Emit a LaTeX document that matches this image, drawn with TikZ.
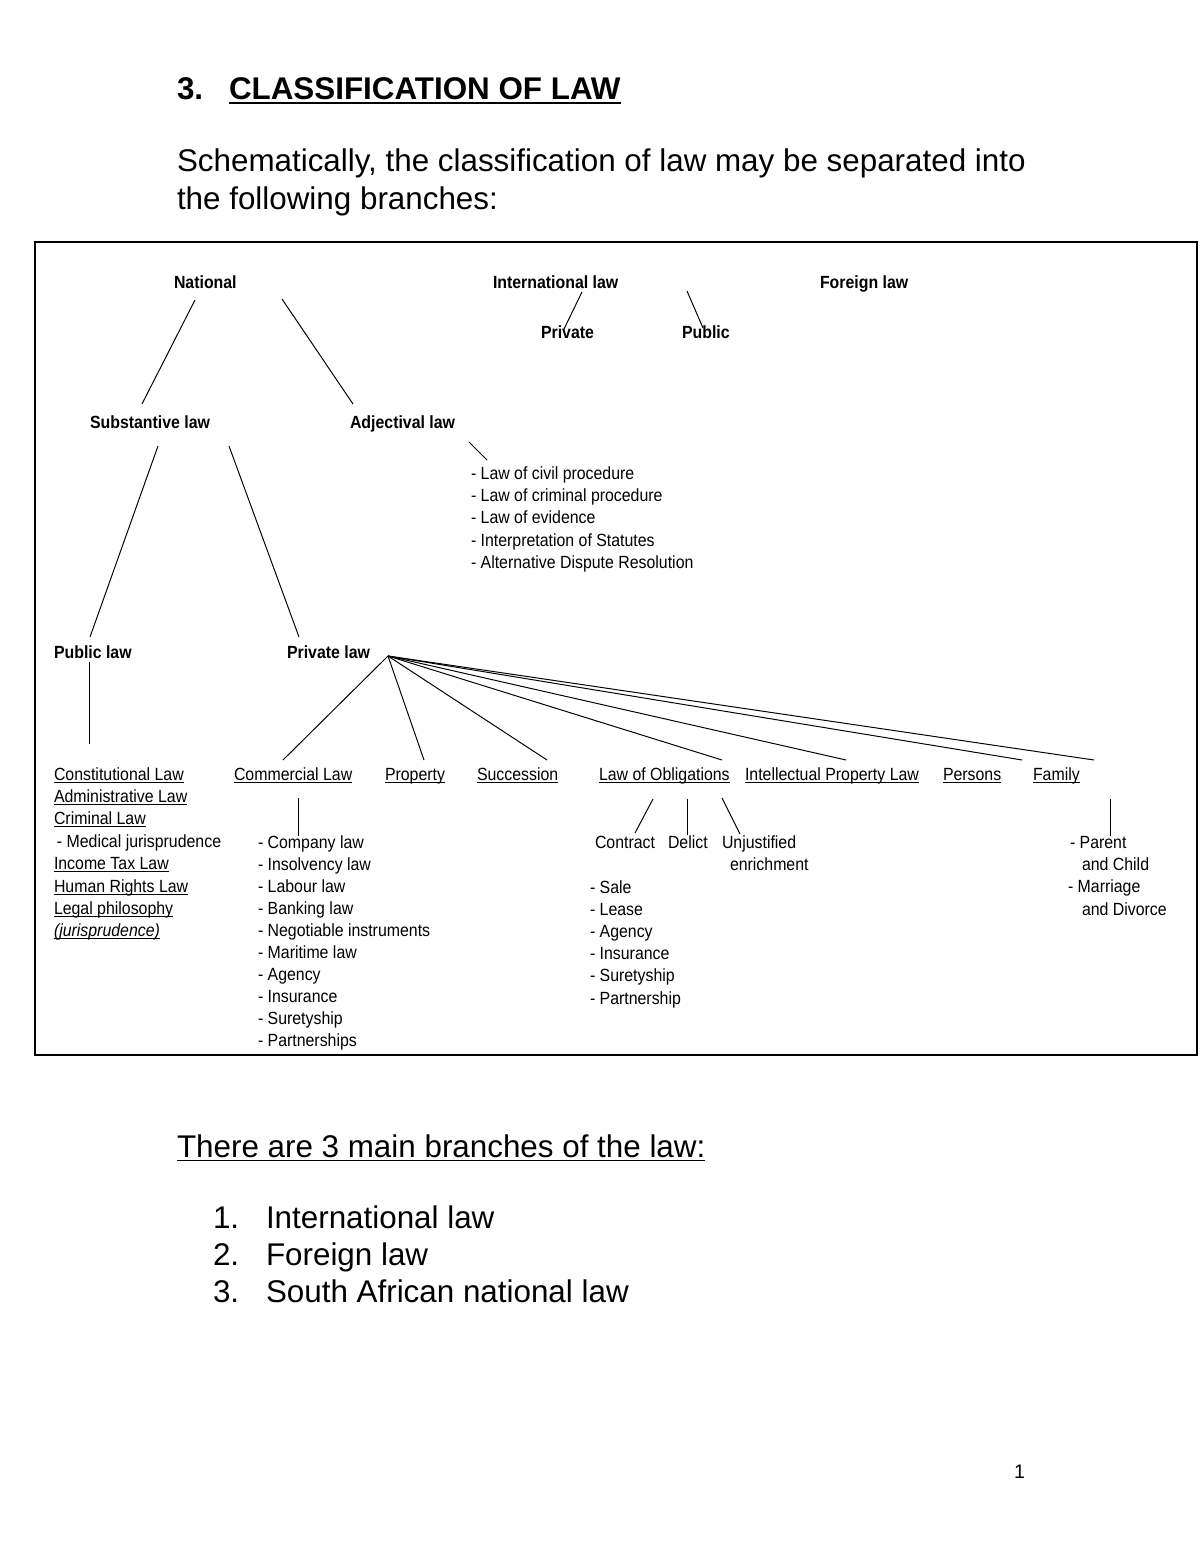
\documentclass[tikz,border=0pt]{standalone}
\usepackage{fontspec}
\setmainfont{Liberation Sans}
\newfontfamily\diagfont[FakeStretch=0.9]{Liberation Sans}
\usetikzlibrary{calc}
\newcommand{\dsize}{\fontsize{9pt}{11.4pt}\selectfont}
\newcommand{\lawul}[1]{\setbox0\hbox{#1}\rlap{\rule[-0.26ex]{\wd0}{0.1ex}}\box0}

\begin{document}
\begin{tikzpicture}[x=0.51pt,y=-0.51pt,
    txt/.style={inner sep=0,outer sep=0,anchor=base west,font=\fontsize{16pt}{19.4pt}\selectfont},
    hd/.style={inner sep=0,outer sep=0,anchor=base west,font=\diagfont\dsize\bfseries},
    itm/.style={inner sep=0,outer sep=0,anchor=base west,font=\diagfont\dsize},
    ln/.style={line width=0.5pt}]
    \useasboundingbox (0,0) rectangle (1200,1553);
    \fill[white] (0,0) rectangle (1200,1553);
    % heading
    \node[txt,font=\fontsize{16pt}{19.4pt}\selectfont\bfseries] (T3) at (177,99.5) {3.};
    \node[txt,font=\fontsize{16pt}{19.4pt}\selectfont\bfseries] (TT) at (229,99.5) {\lawul{CLASSIFICATION OF LAW}};
    \node[txt] (S1) at (177,172) {Schematically, the classification of law may be separated into};
    \node[txt] (S2) at (177,210) {the following branches:};
    \draw[line width=0.9pt] (35,242) rectangle (1197,1055);
    % top levels
    \node[hd] (NA) at (174,288) {National};
    \node[hd] (IL) at (493,288) {International law};
    \node[hd] (FL) at (820,288) {Foreign law};
    \node[hd] (PV) at (541,338) {Private};
    \node[hd] (PU) at (682,338) {Public};
    \node[hd] (SL) at (90,428) {Substantive law};
    \node[hd] (AL) at (350,428) {Adjectival law};
    \node[hd] (PBL) at (54,658) {Public law};
    \node[hd] (PRL) at (287,658) {Private law};
    \draw[ln] ($(NA.base west)+(21,12)$) -- ($(SL.base west)+(52,-24)$);
    \draw[ln] ($(NA.base west)+(108,11)$) -- ($(AL.base west)+(3,-24)$);
    \draw[ln] ($(IL.base west)+(89,4)$) -- ($(PV.base west)+(23,-9)$);
    \draw[ln] ($(IL.base west)+(194,3)$) -- ($(PU.base west)+(21,-10)$);
    \draw[ln] ($(SL.base west)+(68,18)$) -- ($(PBL.base west)+(36,-21)$);
    \draw[ln] ($(SL.base west)+(139,18)$) -- ($(PRL.base west)+(12,-21)$);
    % adjectival law
    \foreach \t [count=\i from 0] in {- Law of civil procedure,- Law of criminal procedure,- Law of evidence,- Interpretation of Statutes,- Alternative Dispute Resolution}
      \node[itm] (AD\i) at (471,{479+22.4*\i}) {\t};
    \draw[ln] ($(AL.base west)+(119,14)$) -- ($(AD0.base west)+(16,-19)$);
    % public law
    \foreach \t [count=\i from 0] in {\lawul{Constitutional Law},\lawul{Administrative Law},\lawul{Criminal Law},\hspace*{1.5pt}- Medical jurisprudence,\lawul{Income Tax Law},\lawul{Human Rights Law},\lawul{Legal philosophy},\lawul{\itshape(jurisprudence)}}
      \node[itm] (PB\i) at (54,{780+22.4*\i}) {\t};
    \draw[ln] ($(PBL.base west)+(35,4)$) -- ($(PB0.base west)+(35,-36)$);
    % private law
    \foreach \x/\n/\t in {234/CM/Commercial Law,385/PR/Property,477/SU/Succession,599/OB/Law of Obligations,745/IP/Intellectual Property Law,943/PE/Persons,1033/FA/Family}
      \node[itm] (\n) at (\x,780) {\lawul{\t}};
    \foreach \n/\d in {CM/49,PR/39,SU/70,OB/123,IP/101,PE/79,FA/61}
      \draw[ln] ($(PRL.base west)+(101,-2)$) -- ($(\n.base west)+(\d,-20)$);
    \foreach \t [count=\i from 0] in {- Company law,- Insolvency law,- Labour law,- Banking law,- Negotiable instruments,- Maritime law,- Agency,- Insurance,- Suretyship,- Partnerships}
      \node[itm] (CL\i) at (258,{848+22.1*\i}) {\t};
    \draw[ln] ($(CM.base west)+(64,18)$) -- ($(CL0.base west)+(40,-12)$);
    % obligations
    \node[itm] (CT) at (595,848) {Contract};
    \node[itm] (DE) at (668,848) {Delict};
    \node[itm] (UJ) at (722,848) {Unjustified};
    \node[itm] (EN) at (730,870) {enrichment};
    \draw[ln] ($(OB.base west)+(54,19)$) -- ($(CT.base west)+(40,-15)$);
    \draw[ln] ($(OB.base west)+(88,19)$) -- ($(DE.base west)+(19,-13)$);
    \draw[ln] ($(OB.base west)+(123,18)$) -- ($(UJ.base west)+(18,-14)$);
    \foreach \t [count=\i from 0] in {- Sale,- Lease,- Agency,- Insurance,- Suretyship,- Partnership}
      \node[itm] (OL\i) at (590,{893+22.2*\i}) {\t};
    % family
    \foreach \x/\t [count=\i from 0] in {1070/- Parent,1082/and Child,1068/- Marriage,1082/and Divorce}
      \node[itm] (FP\i) at (\x,{848+22.4*\i}) {\t};
    \draw[ln] ($(FA.base west)+(77,19)$) -- ($(FP0.base west)+(40,-12)$);
    % main branches
    \node[txt] (MB) at (177,1157) {\lawul{There are 3 main branches of the law:}};
    \foreach \t [count=\i] in {International law,Foreign law,South African national law} {
      \node[txt] (K\i) at (213,{1191+37*\i}) {\i.};
      \node[txt] (L\i) at (266,{1191+37*\i}) {\t};
    }
    \node[txt,font=\fontsize{10pt}{12pt}\selectfont] (PG) at (1014,1478) {1};
\end{tikzpicture}
\end{document}
